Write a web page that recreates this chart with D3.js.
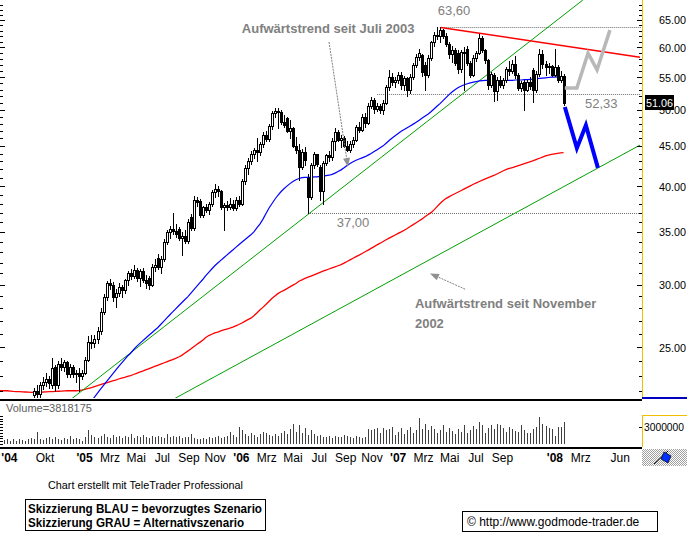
<!DOCTYPE html>
<html><head><meta charset="utf-8">
<script src="https://cdn.jsdelivr.net/npm/d3@7"></script>
<style>
body{margin:0;background:#fff;}
svg{display:block;font-family:"Liberation Sans",Arial,sans-serif;}
</style></head><body>
<svg id="c" width="687" height="533"></svg>
<script>
// ---------- DATA ----------
const candleStart = "2004-09-06"; // weekly candles
const opens = [
21.7,22.0,21.8,22.4,22.6,22.8,22.4,23.6,22.4,23.8,
23.6,23.9,23.1,23.6,23.1,23.2,23.0,23.2,24.1,25.4,
25.3,25.6,26.2,27.7,28.9,30.1,30.0,28.9,29.3,29.8,
29.5,30.4,31.0,30.8,31.3,30.6,31.2,30.4,30.6,30.0,
31.6,32.4,31.6,32.3,34.0,35.0,35.3,35.1,35.3,34.4,
34.6,34.1,36.6,35.4,38.4,38.3,36.8,37.6,37.3,38.0,
39.3,39.7,39.4,37.6,37.9,37.6,38.0,37.5,38.4,38.0,
40.6,42.2,43.0,44.0,44.4,44.2,45.2,46.5,45.9,47.7,
49.6,49.8,49.7,48.3,48.8,47.0,47.4,45.0,44.5,42.3,
44.2,41.0,38.8,42.5,43.9,42.3,39.4,42.8,43.8,43.5,
45.7,46.8,45.8,46.1,45.0,44.5,45.3,45.8,47.5,47.2,
49.0,48.1,50.6,51.4,50.1,50.5,49.9,51.0,53.4,55.0,
54.2,54.6,55.3,53.8,54.8,52.9,55.0,57.0,58.3,58.6,
57.0,55.4,58.2,60.9,62.3,62.0,63.2,62.0,60.6,58.8,
59.6,59.0,56.3,59.2,59.7,57.4,55.4,58.2,59.0,61.6,
59.6,57.8,53.8,55.3,52.8,54.6,53.8,54.5,56.3,56.0,
57.1,55.3,53.3,54.2,53.0,54.3,56.2,53.0,55.5,58.8,
57.2,56.7,56.8,55.4,56.6,54.6,55.2];
const highs = [
22.2,22.4,22.6,22.9,23.2,23.0,24.2,23.7,24.0,24.2,
24.1,24.0,23.8,23.7,23.4,23.5,23.4,24.3,25.8,25.9,
25.9,26.5,28.0,29.2,30.3,30.5,30.2,29.6,30.1,30.0,
30.5,31.2,31.4,31.8,31.5,31.4,31.5,30.9,30.8,31.9,
32.3,32.8,32.6,34.3,35.2,35.6,37.0,35.8,35.5,35.0,
35.2,36.3,36.9,38.9,38.7,38.5,37.8,38.0,38.2,39.6,
40.2,40.0,39.6,38.1,38.3,38.6,38.4,38.7,38.9,40.9,
42.5,43.4,44.3,44.7,46.0,45.5,46.9,47.0,48.0,49.8,
50.2,50.3,50.0,49.2,49.0,48.5,47.6,46.2,45.2,44.6,
44.8,41.4,42.8,44.2,44.0,42.6,43.0,43.9,44.3,46.0,
47.4,47.2,46.4,46.3,45.6,45.6,46.2,47.8,48.3,49.4,
49.5,51.0,51.9,51.7,51.0,50.8,51.4,53.7,56.2,55.6,
55.0,55.8,55.8,55.2,55.0,55.5,57.4,58.8,59.8,58.8,
57.5,58.6,61.2,62.8,63.6,63.6,63.4,62.5,60.9,60.2,
59.9,59.6,59.5,60.0,60.2,57.6,58.6,59.4,62.6,62.0,
59.8,58.0,55.8,55.6,55.0,55.2,54.8,56.6,57.6,57.9,
58.5,55.6,54.4,54.5,54.6,55.0,56.5,56.0,59.7,59.5,
57.6,57.4,57.0,59.8,57.0,56.0,55.5];
const lows = [
21.3,21.5,21.6,22.1,22.3,22.2,22.2,22.0,22.2,23.4,
23.3,22.9,22.9,22.9,22.6,22.0,22.8,23.1,24.0,24.9,
25.0,25.3,26.0,27.5,28.7,29.6,28.6,28.1,29.0,28.9,
29.3,30.0,30.5,30.6,30.3,29.9,30.2,29.7,29.6,29.9,
31.2,31.4,31.0,32.1,33.8,34.4,34.8,34.5,34.2,32.7,
33.9,33.9,35.2,35.2,37.8,36.6,36.5,37.1,36.9,37.8,
38.8,38.9,37.4,35.2,37.3,37.4,37.3,37.3,37.8,37.9,
40.3,41.5,42.7,43.4,43.0,43.8,44.8,45.6,45.6,47.3,
49.0,47.4,48.0,47.5,46.8,46.0,44.8,44.1,40.7,42.0,
42.5,37.0,38.5,42.2,42.4,38.4,38.0,42.5,43.0,43.2,
44.4,45.6,44.9,44.8,44.3,44.2,44.8,45.6,46.8,47.0,
47.6,47.9,50.2,49.6,49.8,49.5,49.4,50.8,53.0,53.8,
53.5,54.0,53.2,53.0,52.1,52.5,54.7,56.6,57.9,55.2,
53.0,55.0,57.9,60.2,61.5,61.0,61.7,60.3,58.2,57.5,
57.0,55.6,55.9,53.0,57.0,55.0,55.2,57.6,58.8,59.2,
57.4,53.2,53.4,51.3,51.4,53.4,53.3,54.2,55.4,55.6,
54.8,53.0,52.8,50.0,52.8,53.2,51.2,52.7,55.2,56.5,
55.4,55.6,55.2,55.2,54.3,54.2,50.7];
const closes = [
22.0,21.8,22.4,22.6,22.8,22.5,23.5,22.4,23.8,23.6,
23.9,23.1,23.6,23.1,23.2,23.0,23.2,24.1,25.4,25.3,
25.6,26.2,27.7,28.9,30.1,30.0,28.9,29.3,29.8,29.5,
30.4,31.0,30.8,31.3,30.6,31.2,30.4,30.1,30.0,31.6,
31.8,31.6,32.3,34.0,35.0,35.3,35.1,34.8,34.4,34.6,
34.1,36.0,35.4,38.4,38.2,36.8,37.6,37.3,38.0,39.3,
39.7,39.4,37.6,37.9,37.6,38.0,37.5,38.4,38.0,40.6,
42.2,43.0,44.0,44.4,44.2,45.2,46.5,45.9,47.7,49.6,
49.8,49.7,48.3,47.8,47.0,47.4,45.0,44.4,42.3,44.2,
43.2,38.8,42.5,43.9,42.7,39.4,42.8,43.8,43.5,45.7,
46.8,45.8,46.1,45.0,44.5,45.3,45.8,47.5,47.2,49.0,
48.1,50.6,51.4,50.1,50.5,49.9,51.0,53.4,55.0,54.2,
54.6,55.3,53.8,54.8,52.9,55.0,57.0,58.3,59.0,55.8,
55.4,58.2,60.9,62.3,62.0,63.2,62.0,60.6,58.8,59.6,
57.4,56.3,59.2,59.0,57.4,55.4,58.2,59.0,61.6,59.6,
57.8,53.8,55.5,52.8,54.6,53.8,54.5,56.3,56.0,57.1,
55.3,53.3,54.0,53.0,54.3,53.6,53.0,55.5,58.8,57.2,
56.7,56.9,55.4,56.6,54.6,55.2,51.06];

const volumeStart = "2004-06-28"; // weekly volume, millions
const volumes = [
0.7,0.9,0.6,0.8,0.5,0.9,0.7,0.6,0.8,1.0,
0.9,2.1,0.8,0.7,1.0,1.3,0.9,1.2,0.8,0.7,
1.0,0.9,1.4,0.8,1.1,0.9,0.6,1.3,2.5,1.6,
1.2,1.0,1.5,1.8,1.3,1.1,1.6,1.2,1.4,1.0,
1.5,1.3,1.7,1.1,1.4,1.2,1.6,1.3,1.1,1.4,
1.2,1.5,1.3,1.1,1.7,1.3,1.4,1.2,1.5,1.1,
1.3,1.2,1.8,1.1,0.9,0.8,1.0,0.9,1.2,1.0,
1.3,1.4,1.1,1.2,1.5,2.2,1.6,1.3,3.0,2.4,
1.7,1.5,2.0,1.6,1.3,1.8,2.2,1.9,1.6,1.4,
1.7,1.5,1.9,2.3,1.8,2.6,3.6,2.2,3.4,2.0,
2.9,1.6,2.5,1.8,1.4,1.6,1.3,1.2,1.4,1.1,
1.5,1.3,1.2,1.6,1.4,1.3,1.1,1.5,1.2,1.0,
1.3,2.6,2.4,2.7,2.8,1.9,2.9,2.4,2.6,3.0,
1.6,2.2,2.8,1.8,2.4,3.0,2.0,2.5,4.6,2.7,
3.6,2.4,3.2,2.6,1.9,2.4,3.4,2.1,2.8,2.3,
1.8,2.6,2.2,3.3,1.9,2.4,3.1,2.7,3.8,3.4,
2.0,2.9,3.3,2.6,3.6,3.3,2.8,2.2,3.0,2.6,
2.3,2.1,3.4,2.5,2.0,1.9,2.6,3.0,4.8,3.5,
3.2,2.8,2.6,1.5,3.0,3.0,3.818175];

const redMAStart = "2004-06-14";
const redMA = [
22.0,22.0,22.0,22.0,21.98,21.96,21.95,21.95,21.93,21.92,21.91,21.9,
21.9,21.9,21.9,21.92,21.93,21.95,21.95,21.96,21.97,21.98,
21.99,22.0,22.0,22.0,22.0,22.02,22.05,22.1,22.15,22.2,
22.27,22.33,22.4,22.46,22.52,22.58,22.64,22.7,22.77,22.83,
22.88,22.94,23.0,23.07,23.15,23.23,23.3,23.38,23.46,23.54,
23.62,23.7,23.78,23.86,23.94,24.02,24.1,24.18,24.28,24.4,
24.55,24.7,24.86,25.02,25.18,25.34,25.5,25.7,25.85,25.95,
26.05,26.12,26.2,26.28,26.35,26.42,26.5,26.6,26.7,26.82,
26.95,27.08,27.2,27.4,27.62,27.85,28.07,28.3,28.55,28.8,
29.02,29.22,29.38,29.5,29.65,29.8,29.95,30.1,30.3,30.42,
30.55,30.66,30.76,30.86,30.98,31.1,31.2,31.3,31.4,31.5,
31.6,31.7,31.8,31.95,32.1,32.25,32.4,32.55,32.7,32.86,
33.02,33.18,33.35,33.52,33.7,33.86,34.03,34.2,34.36,34.52,
34.68,34.84,35.0,35.17,35.35,35.55,35.75,35.95,36.15,36.35,
36.6,36.82,37.05,37.35,37.7,38.05,38.35,38.6,38.8,38.98,
39.15,39.32,39.5,39.68,39.86,40.04,40.22,40.38,40.55,40.7,
40.85,41.0,41.15,41.3,41.48,41.66,41.84,42.0,42.12,42.24,
42.36,42.48,42.6,42.72,42.84,42.96,43.1,43.25,43.4,43.55,
43.7,43.8,43.88,43.95,44.02,44.08,44.12];

const blueMAStart = "2005-01-03";
const blueMA = [
20.9,21.1,21.35,21.6,21.85,22.1,22.35,22.6,22.85,23.1,
23.35,23.6,23.85,24.1,24.35,24.55,24.8,25.05,25.25,25.45,
25.65,25.85,26.05,26.25,26.45,26.7,26.95,27.2,27.45,27.7,
27.95,28.2,28.45,28.7,28.95,29.25,29.55,29.85,30.15,30.45,
30.8,31.1,31.4,31.7,31.95,32.2,32.45,32.7,32.95,33.2,
33.45,33.7,33.95,34.2,34.45,34.7,35.0,35.4,35.8,36.3,
36.9,37.5,38.0,38.5,38.95,39.35,39.7,40.0,40.3,40.55,
40.75,40.9,41.0,41.05,41.05,41.05,41.1,41.1,41.15,41.2,
41.25,41.3,41.4,41.55,41.75,41.95,42.2,42.5,42.75,42.95,
43.15,43.3,43.45,43.6,43.8,44.0,44.25,44.5,44.75,45.0,
45.35,45.7,46.05,46.35,46.65,46.95,47.2,47.45,47.7,47.95,
48.2,48.5,48.8,49.1,49.4,49.75,50.15,50.55,50.95,51.4,
51.85,52.3,52.7,53.05,53.35,53.6,53.8,53.95,54.1,54.2,
54.3,54.4,54.45,54.5,54.5,54.5,54.5,54.45,54.45,54.45,
54.5,54.5,54.5,54.55,54.55,54.55,54.6,54.6,54.65,54.7,
54.75,54.8,54.85,54.9,54.95,55.0,55.0,55.05,55.05,55.0];

const priceTicks = [25,30,35,40,45,50,55,60,65];
const volumeTicks = [3];
const monthLabels = ["'04","Okt","'05","Mrz","Mai","Jul","Sep","Nov","'06","Mrz","Mai","Jul","Sep","Nov","'07","Mrz","Mai","Jul","Sep","'08","Mrz","Jun"];
const monthDates = ["2004-07-10","2004-10-01","2005-01-01","2005-03-01","2005-05-01","2005-07-01","2005-09-01","2005-11-01","2006-01-01","2006-03-01","2006-05-01","2006-07-01","2006-09-01","2006-11-01","2007-01-01","2007-03-01","2007-05-01","2007-07-01","2007-09-01","2008-01-01","2008-03-01","2008-06-01"];

// trend lines (date, price)
const trendJuli2003 = [["2004-11-28",21.41],["2008-03-06",68.91]];
const trendNov2002 = [["2005-07-23",21.41],["2008-07-17",45.1]];
const downTrend = [["2007-04-10",63.6],["2008-07-17",58.3]];
const levelValues = [63.60, 52.33, 37.00];
const levelStarts = ["2007-04-09","2006-11-13","2006-06-05"];
const levelLabelDates = ["2007-04-03","2008-03-11","2006-08-11"];
const blueScenario = [["2008-01-24",50.4],["2008-02-21",44.7],["2008-03-13",47.8],["2008-04-10",42.2]];
const grayScenario = [["2008-01-24",53.3],["2008-02-21",53.3],["2008-03-18",59.0],["2008-04-08",56.2],["2008-05-08",63.1]];
const arrowJuli = [["2006-07-24",60.95],["2006-09-06",42.3]];
const arrowNov = [["2007-06-06",29.6],["2007-03-16",31.0]];

// ---------- CHART ----------
const P = d3.utcParse("%Y-%m-%d");
const DAY = 86400000;
const svg = d3.select("#c");
const x = d3.scaleUtc().domain([P("2004-06-18"), P("2008-07-17")]).range([0, 640]);
const y = d3.scaleLog().domain([21.54, 68.91]).range([398, 0]);
const yv = d3.scaleLinear().domain([0, 3]).range([444, 427]);
const weekDate = (start, i) => new Date(P(start).getTime() + i * 7 * DAY);
const gray = "#808080";

svg.append("defs").append("clipPath").attr("id","plot")
  .append("rect").attr("x",0).attr("y",0).attr("width",641).attr("height",398);
const pattern = svg.select("defs").append("pattern").attr("id","dither")
  .attr("width",2).attr("height",2).attr("patternUnits","userSpaceOnUse");
pattern.append("rect").attr("width",2).attr("height",2).attr("fill","#fff");
pattern.append("rect").attr("width",1).attr("height",1).attr("fill","#a0a0a0");
pattern.append("rect").attr("x",1).attr("y",1).attr("width",1).attr("height",1).attr("fill","#a0a0a0");

const plot = svg.append("g").attr("clip-path","url(#plot)");
const line = d3.line().x(d => x(P(d[0]))).y(d => y(d[1]));

// horizontal levels
levelValues.forEach((v, k) => {
  const yy = Math.round(y(v)) + 0.5;
  plot.append("line").attr("x1", x(P(levelStarts[k]))).attr("x2", 641)
    .attr("y1", yy).attr("y2", yy).attr("stroke", "#707070").attr("stroke-dasharray","1,1");
});

// moving averages
const maLine = (start) => d3.line().x((d,i) => x(weekDate(start,i))).y(d => y(d));
plot.append("path").attr("d", maLine(redMAStart)(redMA)).attr("fill","none").attr("stroke","#ff0000").attr("stroke-width",1.3);

// green trends
[trendJuli2003, trendNov2002].forEach(t => {
  plot.append("path").attr("d", line(t)).attr("fill","none").attr("stroke","#00a000").attr("stroke-width",1);
});
plot.append("path").attr("d", maLine(blueMAStart)(blueMA)).attr("fill","none").attr("stroke","#0000ff").attr("stroke-width",1.2);

// candles
const cg = plot.append("g").attr("shape-rendering","crispEdges");
closes.forEach((c, i) => {
  const o = opens[i], h = highs[i], l = lows[i];
  const xc = Math.round(x(weekDate(candleStart, i)));
  cg.append("line").attr("x1", xc + 0.5).attr("x2", xc + 0.5)
    .attr("y1", Math.round(y(h))).attr("y2", Math.round(y(l)) + 1).attr("stroke","#000");
  const top = Math.round(y(Math.max(o,c))), bot = Math.round(y(Math.min(o,c)));
  cg.append("rect").attr("x", xc - 0.5).attr("y", top + 0.5).attr("width", 2)
    .attr("height", Math.max(bot - top, 1))
    .attr("fill", c >= o ? "#fff" : "#000").attr("stroke","#000");
});

// down trend (red)
plot.append("path").attr("d", line(downTrend)).attr("fill","none").attr("stroke","#ff0000").attr("stroke-width",1.5);

// level labels
levelValues.forEach((v, k) => {
  const off = k === 0 ? -12 : 14;
  plot.append("text").attr("x", x(P(levelLabelDates[k]))).attr("y", y(v) + off)
    .attr("font-size", 13).attr("fill", gray).text(d3.format(".2f")(v).replace(".", ","));
});

// annotations
function arrow(a) {
  const p0 = [x(P(a[0][0])), y(a[0][1])], p1 = [x(P(a[1][0])), y(a[1][1])];
  const ang = Math.atan2(p1[1]-p0[1], p1[0]-p0[0]);
  const L = 9, Wd = 3.5;
  const bx = p1[0] - L*Math.cos(ang), by = p1[1] - L*Math.sin(ang);
  plot.append("line").attr("x1",p0[0]).attr("y1",p0[1]).attr("x2",bx).attr("y2",by)
    .attr("stroke",gray).attr("stroke-width",1).attr("stroke-dasharray","2,1");
  plot.append("path").attr("d", `M${p1[0]},${p1[1]}L${bx - Wd*Math.sin(ang)},${by + Wd*Math.cos(ang)}L${bx + Wd*Math.sin(ang)},${by - Wd*Math.cos(ang)}Z`)
    .attr("fill","#909090");
}
arrow(arrowJuli);
arrow(arrowNov);
plot.append("text").attr("x", x(P("2006-01-02"))).attr("y", y(62.6)).attr("font-size",13)
  .attr("font-weight","bold").attr("fill",gray).text("Aufwärtstrend seit Juli 2003");
plot.append("text").attr("x", x(P("2007-02-09"))).attr("y", y(28.0)).attr("font-size",13)
  .attr("font-weight","bold").attr("fill",gray).text("Aufwärtstrend seit November");
plot.append("text").attr("x", x(P("2007-02-09"))).attr("y", y(26.4)).attr("font-size",13)
  .attr("font-weight","bold").attr("fill",gray).text("2002");

// scenarios
plot.append("path").attr("d", line(grayScenario)).attr("fill","none").attr("stroke","#b8b8b8").attr("stroke-width",3.5).attr("stroke-linejoin","miter");
plot.append("path").attr("d", line(blueScenario)).attr("fill","none").attr("stroke","#0000ff").attr("stroke-width",4).attr("stroke-linejoin","miter");

// ---------- AXES ----------
const ax = svg.append("g").attr("shape-rendering","crispEdges");
d3.range(22, 69, 1).forEach(v => {
  const yy = Math.round(y(v)) + 0.5;
  const major = priceTicks.includes(v);
  ax.append("line").attr("x1",0).attr("x2", major ? 5 : 3).attr("y1",yy).attr("y2",yy).attr("stroke","#000");
  ax.append("line").attr("x1", major ? 637 : 639).attr("x2",642).attr("y1",yy).attr("y2",yy).attr("stroke","#000");
});
ax.append("line").attr("x1",642.5).attr("x2",642.5).attr("y1",0).attr("y2",398).attr("stroke","#f0c000");
ax.append("line").attr("x1",642).attr("x2",687).attr("y1",398).attr("y2",398).attr("stroke","#0000c0").attr("stroke-width",2);
priceTicks.forEach(v => {
  svg.append("text").attr("x",659).attr("y", y(v) + 4.5).attr("font-size",11.5).attr("fill","#000")
    .attr("textLength",27).attr("lengthAdjust","spacingAndGlyphs")
    .text(d3.format(".2f")(v));
});
// last price box
const last = closes[closes.length - 1];
svg.append("rect").attr("x",645).attr("y", Math.round(y(last)) - 8).attr("width",29).attr("height",15).attr("fill","#000");
svg.append("text").attr("x",646).attr("y", y(last) + 4.5).attr("font-size",11.5).attr("fill","#fff")
  .attr("textLength",27).attr("lengthAdjust","spacingAndGlyphs").text(d3.format(".2f")(last));

// separators
ax.append("rect").attr("x",0).attr("y",399).attr("width",642).attr("height",2).attr("fill","#000");
ax.append("rect").attr("x",0).attr("y",447).attr("width",642).attr("height",2).attr("fill","#000");

// volume panel
const vg = svg.append("g").attr("shape-rendering","crispEdges");
volumes.forEach((v, i) => {
  const xc = Math.round(x(weekDate(volumeStart, i))) + 0.5;
  vg.append("line").attr("x1",xc).attr("x2",xc).attr("y1",yv(0)).attr("y2",yv(v)).attr("stroke","#404040");
});
d3.range(0, 5.5, 0.5).forEach(v => {
  const yy = Math.round(yv(v)) + 0.5;
  if (yy > 403) vg.append("line").attr("x1",0).attr("x2",3).attr("y1",yy).attr("y2",yy).attr("stroke","#000");
});
svg.append("text").attr("x",6).attr("y",412).attr("font-size",11).attr("fill","#606060")
  .text("Volume=" + d3.format("d")(Math.round(volumes[volumes.length-1] * 1e6)));
vg.append("line").attr("x1",642.5).attr("x2",642.5).attr("y1",415).attr("y2",447).attr("stroke","#f0c000");
vg.append("line").attr("x1",642).attr("x2",687).attr("y1",415.5).attr("y2",415.5).attr("stroke","#f0c000");
volumeTicks.forEach(v => {
  vg.append("line").attr("x1",639).attr("x2",642).attr("y1",Math.round(yv(v))+0.5).attr("y2",Math.round(yv(v))+0.5).attr("stroke","#000");
  svg.append("text").attr("x",644).attr("y", yv(v) + 4).attr("font-size",11).attr("fill","#000")
    .attr("textLength",40).attr("lengthAdjust","spacingAndGlyphs")
    .text(d3.format("d")(v * 1e6));
});

// x labels
monthLabels.forEach((t, k) => {
  const isYear = t.startsWith("'");
  svg.append("text").attr("x", x(P(monthDates[k]))).attr("y",462).attr("font-size",12)
    .attr("text-anchor","middle").attr("font-weight", isYear ? "bold" : "normal").attr("fill","#000").text(t);
});

// corner icon
svg.append("rect").attr("x",642).attr("y",449).attr("width",45).attr("height",17).attr("fill","url(#dither)");
svg.append("line").attr("x1",654).attr("y1",464).attr("x2",668).attr("y2",451).attr("stroke","#000");
svg.append("path").attr("d","M664,452L671,456L668,463L661,459Z").attr("fill","#0030ff").attr("stroke","#000").attr("stroke-width",0.7);

// footer
svg.append("text").attr("x",48).attr("y",489).attr("font-size",11).attr("fill","#000")
  .attr("textLength",195).attr("lengthAdjust","spacingAndGlyphs").text("Chart erstellt mit TeleTrader Professional");
svg.append("rect").attr("x",25.5).attr("y",499.5).attr("width",240).attr("height",31).attr("fill","none").attr("stroke","#000");
const f1 = svg.append("text").attr("x",28).attr("y",513).attr("font-size",12).attr("font-weight","bold").text("Skizzierung BLAU = bevorzugtes Szenario");
const f2 = svg.append("text").attr("x",28).attr("y",527).attr("font-size",12).attr("font-weight","bold").text("Skizzierung GRAU = Alternativszenario");
const w1 = f1.node().getComputedTextLength(), w2 = f2.node().getComputedTextLength();
const k = 234 / w1;
f1.attr("textLength", w1 * k).attr("lengthAdjust","spacingAndGlyphs");
f2.attr("textLength", w2 * k).attr("lengthAdjust","spacingAndGlyphs");
svg.append("rect").attr("x",462.5).attr("y",511.5).attr("width",195).attr("height",20).attr("fill","none").attr("stroke","#000");
svg.append("text").attr("x",467).attr("y",526).attr("font-size",12).text("© http://www.godmode-trader.de");
</script>
</body></html>
